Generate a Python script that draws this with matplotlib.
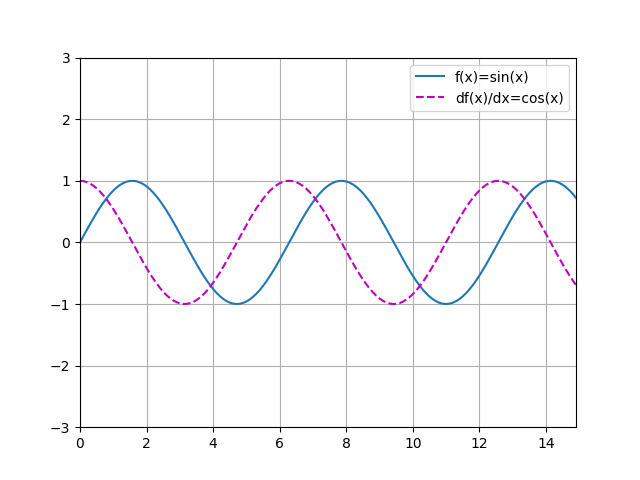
import numpy as np
import matplotlib
matplotlib.use("Agg")
import matplotlib.pyplot as plt

x = np.arange(0, 14.95, 0.1)
f = np.sin(x)
df = np.cos(x)
labels = ["f(x)=sin(x)", "df(x)/dx=cos(x)"]

fig, ax = plt.subplots(figsize=(6.4, 4.8), dpi=100)
ax.plot(x, f, label=labels[0])
ax.plot(x, df, "m--", label=labels[1])
ax.set_xlim(x[0], x[-1])
ax.set_ylim(-3, 3)
ax.grid(True)
ax.legend(loc="upper right")
fig.savefig("out.png")
